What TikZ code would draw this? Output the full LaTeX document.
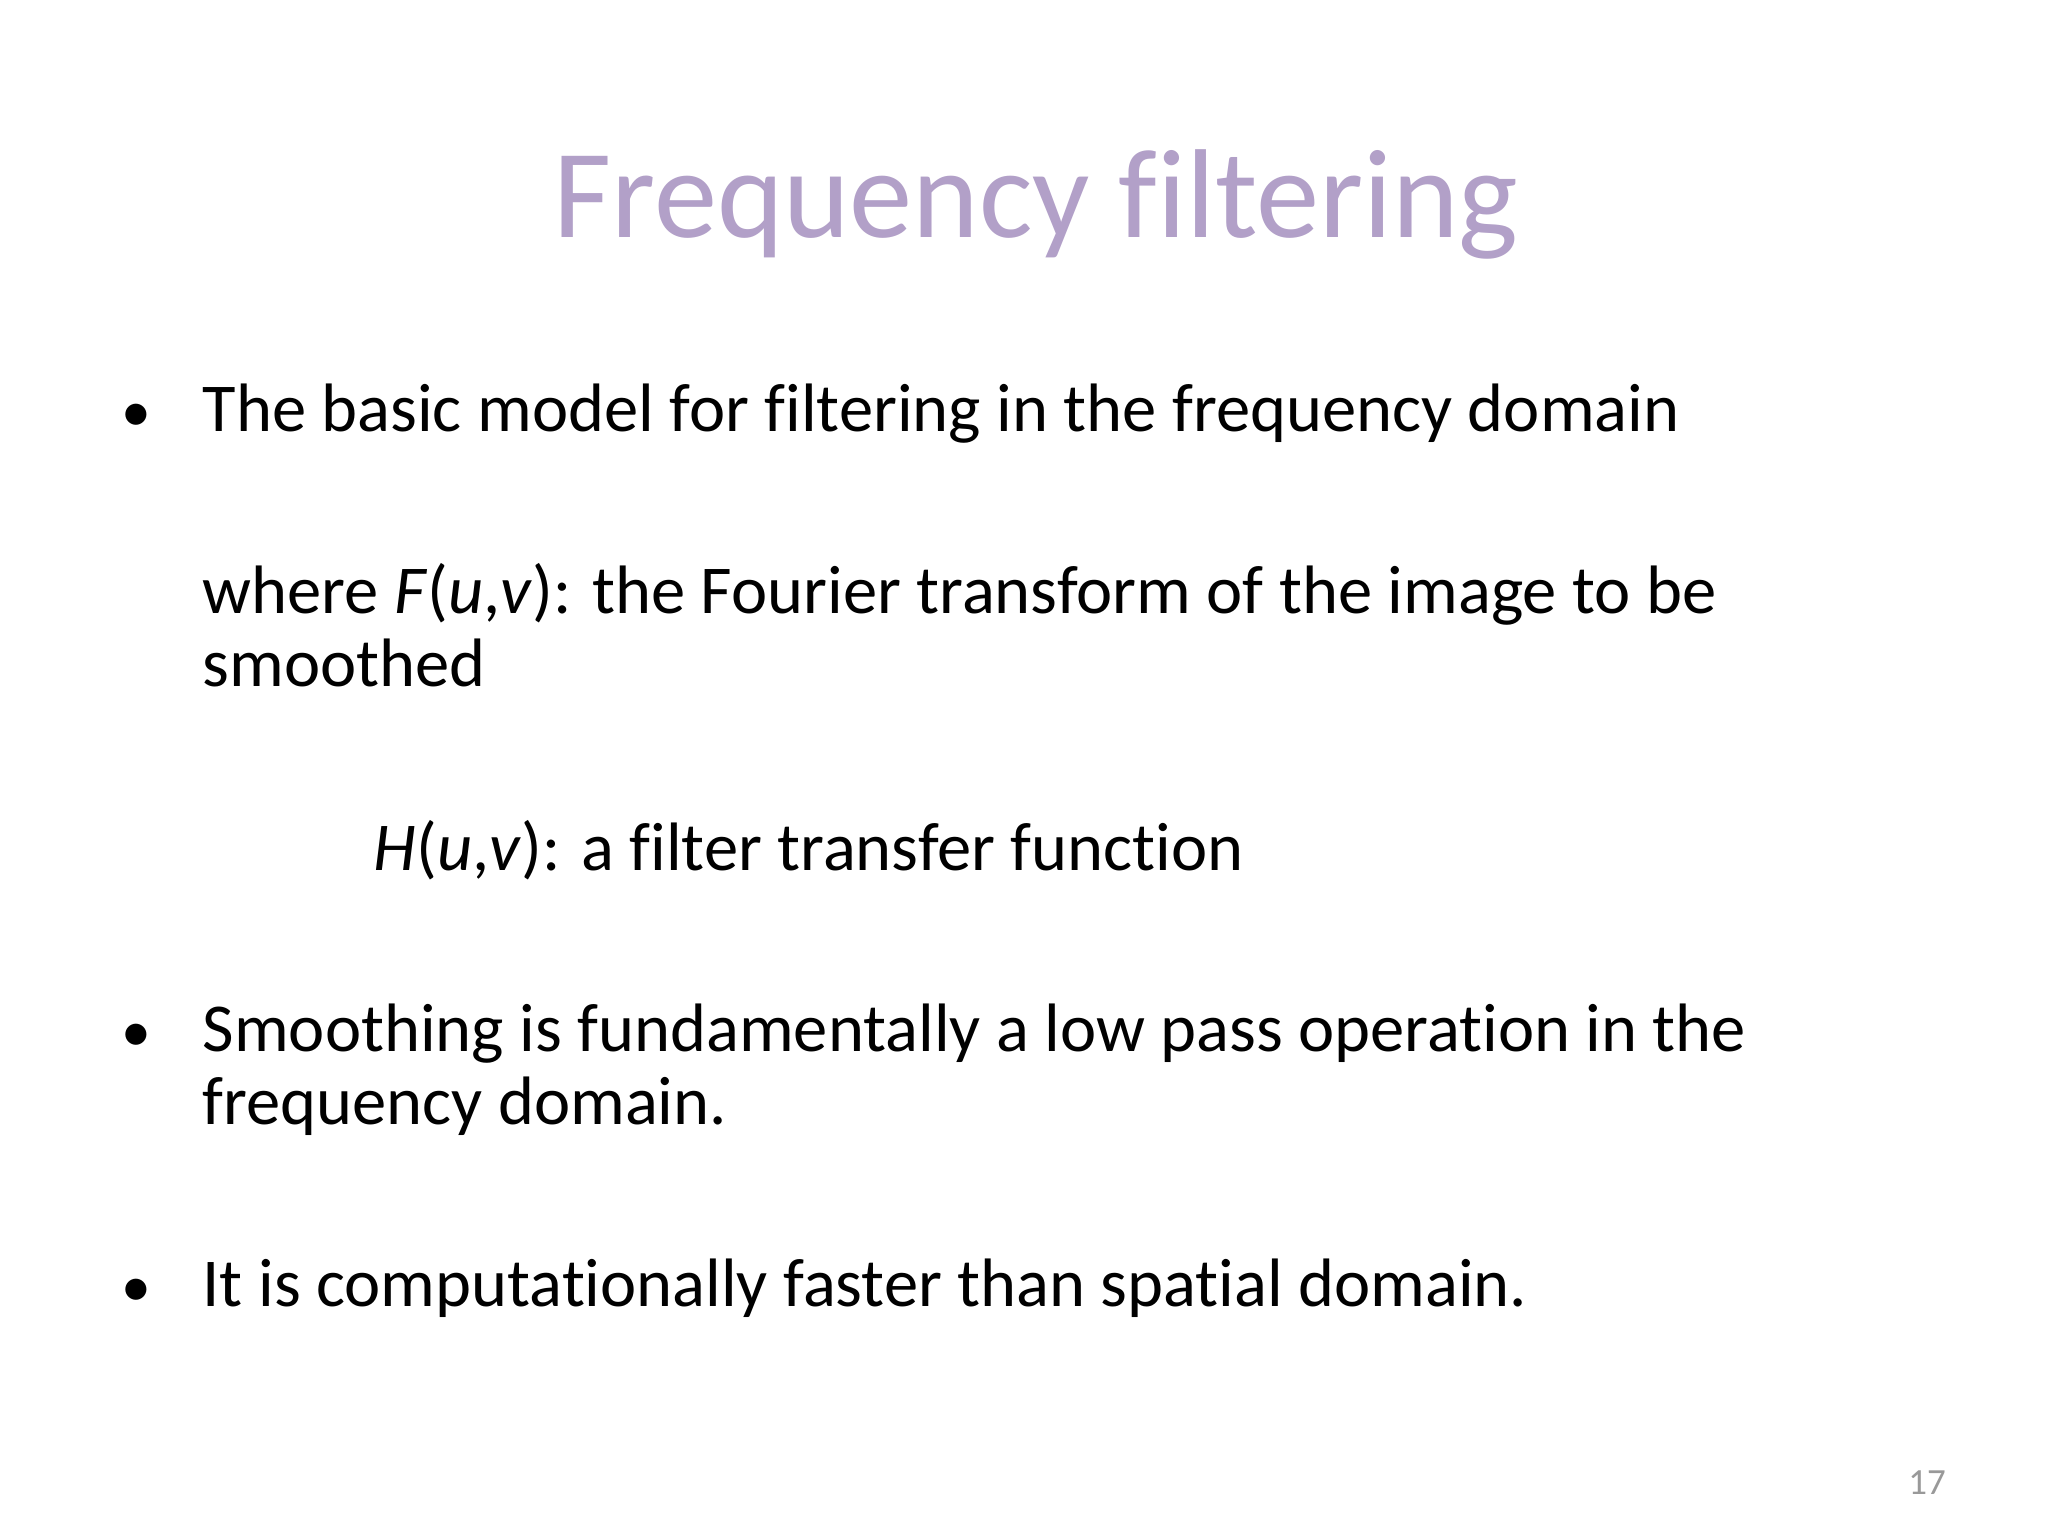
\documentclass[tikz,border=0pt]{standalone}
\usepackage{fontspec}
\setmainfont[Ligatures={NoCommon}]{Carlito}
\begin{document}
\begin{tikzpicture}[x=1cm,y=1cm,
  txt/.style={anchor=base west,inner sep=0pt,font=\fontsize{19.5}{24}\selectfont},
  bul/.style={anchor=base,inner sep=0pt,font=\fontsize{17}{24}\selectfont}]
\definecolor{ttl}{RGB}{178,160,200}
\useasboundingbox (0,0) rectangle (20.48,-15.36);
\fill[white] (0,0) rectangle (20.48,-15.36);
\node[anchor=base,inner sep=0pt,text=ttl,font=\fontsize{36}{42}\selectfont] (title) at (10.36,-2.375) {Frequency filtering};
\node[bul] (b1) at (1.36,-4.315) {•};
\node[txt] (t1) at (2.02,-4.315) {The basic model for filtering in the frequency domain};
\node[txt] (t2) at (2.02,-6.136) {where \textit{F}(\textit{u},\textit{v}): the Fourier transform of the image to be};
\node[txt] (t3) at (2.02,-6.862) {smoothed};
\node[txt] (t4) at (3.73,-8.709) {\textit{H}(\textit{u},\textit{v}): a filter transfer function};
\node[bul] (b2) at (1.36,-10.517) {•};
\node[txt] (t5) at (2.02,-10.517) {Smoothing is fundamentally a low pass operation in the};
\node[txt] (t6) at (2.02,-11.243) {frequency domain.};
\node[bul] (b3) at (1.36,-13.064) {•};
\node[txt] (t7) at (2.02,-13.064) {It is computationally faster than spatial domain.};
\node[anchor=base,inner sep=0pt,text=gray!80,font=\fontsize{10.5}{12}\selectfont] (pn) at (19.27,-14.94) {17};
\end{tikzpicture}
\end{document}
